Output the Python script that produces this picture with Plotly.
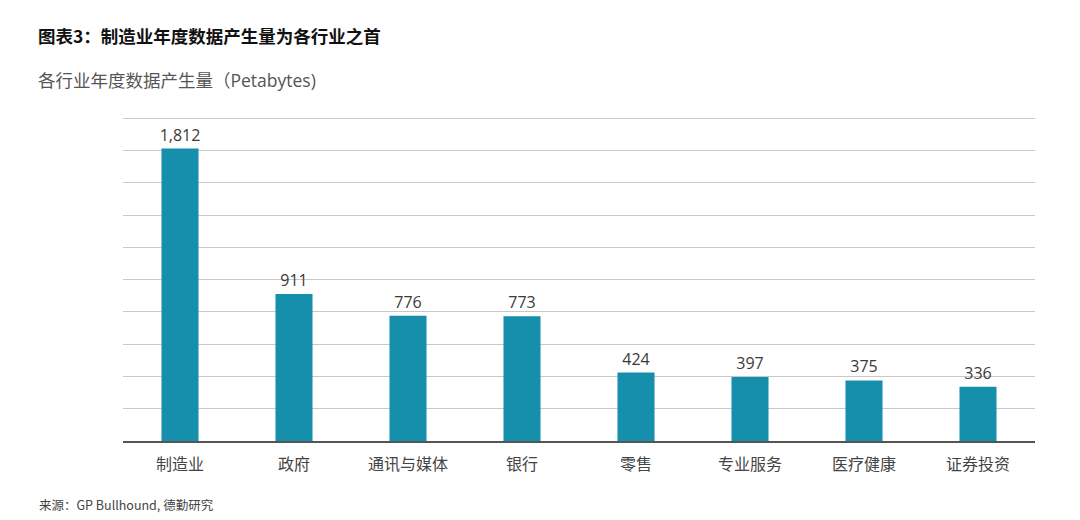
import plotly.graph_objects as go

categories = ["制造业", "政府", "通讯与媒体", "银行", "零售", "专业服务", "医疗健康", "证券投资"]
values = [1812, 911, 776, 773, 424, 397, 375, 336]
value_labels = ["1,812", "911", "776", "773", "424", "397", "375", "336"]

FONT = "Open Sans, Noto Sans CJK SC"
CJK = "Noto Sans CJK SC"

L, R, T, B = 123, 45, 115, 79

fig = go.Figure()
fig.add_trace(go.Bar(
    x=categories, y=values,
    text=value_labels, textposition="outside",
    constraintext="none",
    textfont=dict(family=FONT, size=16, color="#3a3a3a"),
    marker=dict(color="#168FAD", line=dict(width=0)),
    cliponaxis=False,
    hoverinfo="skip",
))

fig.update_layout(
    width=1080, height=520,
    margin=dict(l=L, r=R, t=T, b=B),
    paper_bgcolor="white", plot_bgcolor="white",
    bargap=0.675,
    showlegend=False,
    font=dict(family=FONT),
    xaxis=dict(
        showline=True, linecolor="#555555", linewidth=2,
        ticks="", showgrid=False,
        tickfont=dict(family=CJK, size=16, color="#444444"),
        ticklabelstandoff=8,
        fixedrange=True,
    ),
    yaxis=dict(
        range=[0, 2020], dtick=200, showticklabels=False,
        showgrid=True, gridcolor="#c8c8c8", gridwidth=1,
        zeroline=False, showline=False, ticks="",
        fixedrange=True,
    ),
)

def px_x(px):
    return (px - L) / (1080 - L - R)

def px_y(py):
    return (520 - B - py) / (520 - T - B)

fig.add_annotation(text="<b>图表3：制造业年度数据产生量为各行业之首</b>",
                   x=px_x(36), y=px_y(35), xref="paper", yref="paper",
                   xanchor="left", yanchor="middle", showarrow=False,
                   font=dict(family=CJK, size=17.5, color="#111111"))
fig.add_annotation(text="各行业年度数据产生量（Petabytes)",
                   x=px_x(36), y=px_y(80), xref="paper", yref="paper",
                   xanchor="left", yanchor="middle", showarrow=False,
                   font=dict(family=FONT, size=17.5, color="#555555"))
fig.add_annotation(text="来源：GP Bullhound, 德勤研究",
                   x=px_x(37), y=px_y(504), xref="paper", yref="paper",
                   xanchor="left", yanchor="middle", showarrow=False,
                   font=dict(family=CJK, size=12.5, color="#444444"))

fig.write_html("out.html")
